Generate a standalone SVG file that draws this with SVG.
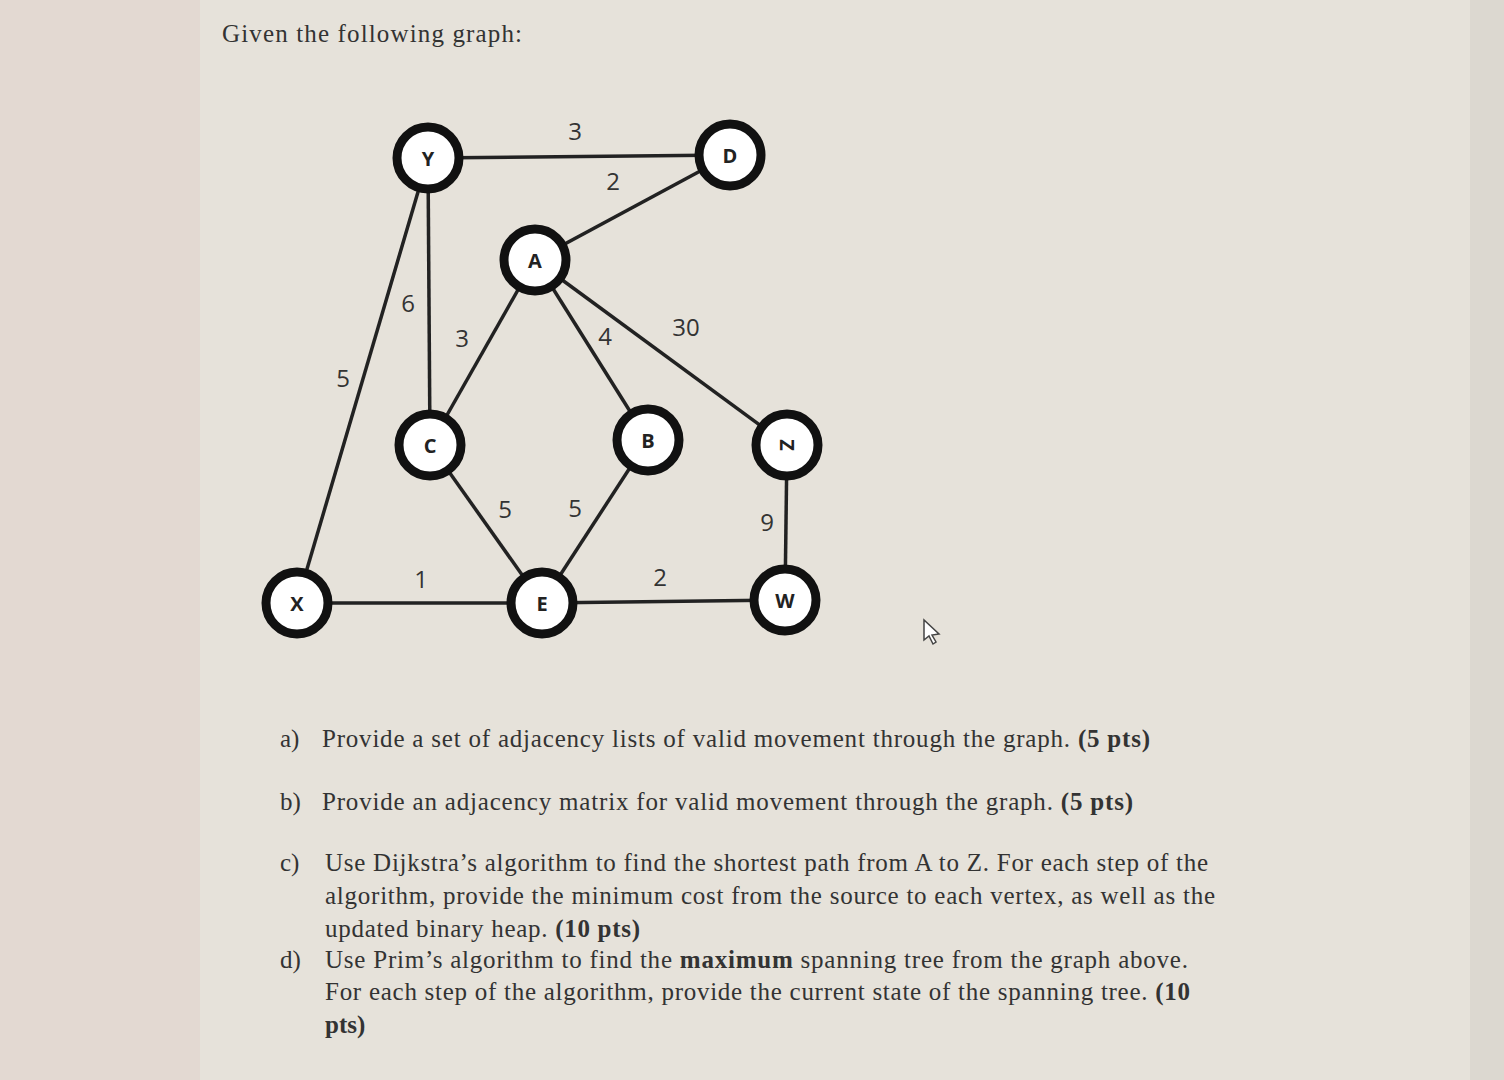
<svg xmlns="http://www.w3.org/2000/svg" width="1504" height="1080" viewBox="0 0 1504 1080">
<style>
.n circle{fill:#fff;stroke:#111;stroke-width:9}
.n text{font-family:"Open Sans","Liberation Sans",sans-serif;font-weight:bold;font-size:20px;fill:#222;text-anchor:middle;dominant-baseline:central}
.e line{stroke:#222;stroke-width:3.5}
.w{font-family:"Open Sans","Liberation Sans",sans-serif;font-size:24px;fill:#333;text-anchor:middle;dominant-baseline:central}
.t{font-family:"Liberation Serif",serif;font-size:25px;fill:#333}
</style>
<rect width="1504" height="1080" fill="#e6e2da"/>
<rect x="0" y="0" width="200" height="1080" fill="#e3d9d2"/>
<rect x="1470" y="0" width="34" height="1080" fill="#dcd8d0"/>
<text class="t" x="222" y="42" textLength="300" lengthAdjust="spacing">Given the following graph:</text>
<g class="e" id="edges">
<line x1="428" y1="158" x2="730" y2="155"/>
<line x1="730" y1="155" x2="535" y2="260"/>
<line x1="428" y1="158" x2="430" y2="445"/>
<line x1="428" y1="158" x2="297" y2="603"/>
<line x1="535" y1="260" x2="430" y2="445"/>
<line x1="535" y1="260" x2="648" y2="440"/>
<line x1="535" y1="260" x2="787" y2="445"/>
<line x1="430" y1="445" x2="542" y2="603"/>
<line x1="648" y1="440" x2="542" y2="603"/>
<line x1="787" y1="445" x2="785" y2="600"/>
<line x1="297" y1="603" x2="542" y2="603"/>
<line x1="542" y1="603" x2="785" y2="600"/>
</g>
<g id="weights">
<text class="w" x="575" y="130">3</text>
<text class="w" x="613" y="180">2</text>
<text class="w" x="408" y="302">6</text>
<text class="w" x="462" y="337">3</text>
<text class="w" x="343" y="377">5</text>
<text class="w" x="605" y="335">4</text>
<text class="w" x="686" y="326">30</text>
<text class="w" x="505" y="508">5</text>
<text class="w" x="575" y="507">5</text>
<text class="w" x="767" y="521">9</text>
<text class="w" x="421" y="578">1</text>
<text class="w" x="660" y="576">2</text>
</g>
<g class="n" id="Y"><circle cx="428" cy="158" r="31"/><text x="428" y="158">Y</text></g>
<g class="n" id="D"><circle cx="730" cy="155" r="31"/><text x="730" y="155">D</text></g>
<g class="n" id="A"><circle cx="535" cy="260" r="31"/><text x="535" y="260">A</text></g>
<g class="n" id="C"><circle cx="430" cy="445" r="31"/><text x="430" y="445">C</text></g>
<g class="n" id="B"><circle cx="648" cy="440" r="31"/><text x="648" y="440">B</text></g>
<g class="n" id="Z"><circle cx="787" cy="445" r="31"/><text x="787" y="445" transform="rotate(90 787 445)">Z</text></g>
<g class="n" id="X"><circle cx="297" cy="603" r="31"/><text x="297" y="603">X</text></g>
<g class="n" id="E"><circle cx="542" cy="603" r="31"/><text x="542" y="603">E</text></g>
<g class="n" id="W"><circle cx="785" cy="600" r="31"/><text x="785" y="600">W</text></g>
<polygon points="924,620 924,640 929,636 933,644 936,642 932,635 939,634" fill="#fff" stroke="#444" stroke-width="1.5"/>
<g class="t">
<text x="280" y="747">a)</text>
<text x="322" y="747" textLength="828" lengthAdjust="spacing">Provide a set of adjacency lists of valid movement through the graph. <tspan font-weight="bold">(5 pts)</tspan></text>
<text x="280" y="810">b)</text>
<text x="322" y="810" textLength="811" lengthAdjust="spacing">Provide an adjacency matrix for valid movement through the graph. <tspan font-weight="bold">(5 pts)</tspan></text>
<text x="280" y="871">c)</text>
<text x="325" y="871" textLength="883" lengthAdjust="spacing">Use Dijkstra’s algorithm to find the shortest path from A to Z. For each step of the</text>
<text x="325" y="904" textLength="890" lengthAdjust="spacing">algorithm, provide the minimum cost from the source to each vertex, as well as the</text>
<text x="325" y="937" textLength="315" lengthAdjust="spacing">updated binary heap. <tspan font-weight="bold">(10 pts)</tspan></text>
<text x="280" y="968">d)</text>
<text x="325" y="968" textLength="863" lengthAdjust="spacing">Use Prim’s algorithm to find the <tspan font-weight="bold">maximum</tspan> spanning tree from the graph above.</text>
<text x="325" y="1000" textLength="865" lengthAdjust="spacing">For each step of the algorithm, provide the current state of the spanning tree. <tspan font-weight="bold">(10</tspan></text>
<text x="325" y="1033" font-weight="bold">pts)</text>
</g>
</svg>
